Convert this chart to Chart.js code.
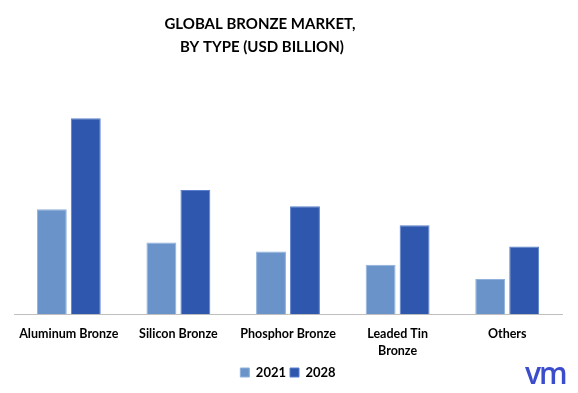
<!DOCTYPE html>
<html>
<head>
<meta charset="utf-8">
<script src="https://cdn.jsdelivr.net/npm/chart.js@4/dist/chart.umd.min.js"></script>
<style>
  html, body { margin: 0; padding: 0; background: #fff; }
  #wrap { position: relative; width: 578px; height: 393px; }
  #logo { position: absolute; left: 525px; top: 352px; font-family: "Open Sans", sans-serif; font-size: 30px; color: #3b4ccc; letter-spacing: -2px; font-weight: 600; }
</style>
</head>
<body>
<div id="wrap">
<canvas id="c" width="578" height="393"></canvas>
<div id="logo">vm</div>
</div>
<script>
const categories = ["Aluminum Bronze", "Silicon Bronze", "Phosphor Bronze", ["Leaded Tin", "Bronze"], "Others"];
const seriesNames = ["2021", "2028"];
const values2021 = [2.08, 1.42, 1.24, 0.98, 0.70];
const values2028 = [3.88, 2.46, 2.14, 1.76, 1.34];
const titleLines = ["GLOBAL BRONZE MARKET,", "BY TYPE (USD BILLION)"];

const FONT = "Lato, 'Open Sans', sans-serif";

// Title drawn slightly left of centre, as in the reference
const titlePlugin = {
  id: 'offsetTitle',
  afterDraw(chart) {
    const ctx = chart.ctx;
    ctx.save();
    ctx.fillStyle = '#000';
    ctx.font = "bold 15px " + FONT;
    ctx.textAlign = 'center';
    ctx.textBaseline = 'middle';
    ctx.fillText(titleLines[0], 260, 24);
    ctx.fillText(titleLines[1], 262, 47);
    ctx.restore();
  }
};

new Chart(document.getElementById('c'), {
  type: 'bar',
  data: {
    labels: categories,
    datasets: [
      { label: seriesNames[0], data: values2021, backgroundColor: '#6a94c9', borderColor: '#8fb0dc', borderWidth: 1 },
      { label: seriesNames[1], data: values2028, backgroundColor: '#2e57ad', borderColor: '#5b7fcc', borderWidth: 1 }
    ]
  },
  plugins: [titlePlugin],
  options: {
    responsive: false,
    animation: false,
    layout: { padding: { left: 14, right: 16, top: 97, bottom: 4 } },
    datasets: { bar: { categoryPercentage: 0.62, barPercentage: 0.88 } },
    plugins: {
      title: { display: false },
      legend: {
        position: 'bottom',
        labels: {
          color: '#000',
          font: { family: FONT, size: 13, weight: 'bold' },
          boxWidth: 9, boxHeight: 9, padding: 4
        }
      },
      tooltip: { enabled: false }
    },
    scales: {
      x: {
        grid: { display: false },
        border: { display: true, color: '#bfbfbf', width: 1 },
        ticks: { color: '#000', font: { family: FONT, size: 12.5, weight: 'bold', lineHeight: 1.35 }, maxRotation: 0, autoSkip: false, padding: 3 }
      },
      y: {
        display: false,
        min: 0,
        max: 4.3
      }
    }
  }
});
</script>
</body>
</html>
